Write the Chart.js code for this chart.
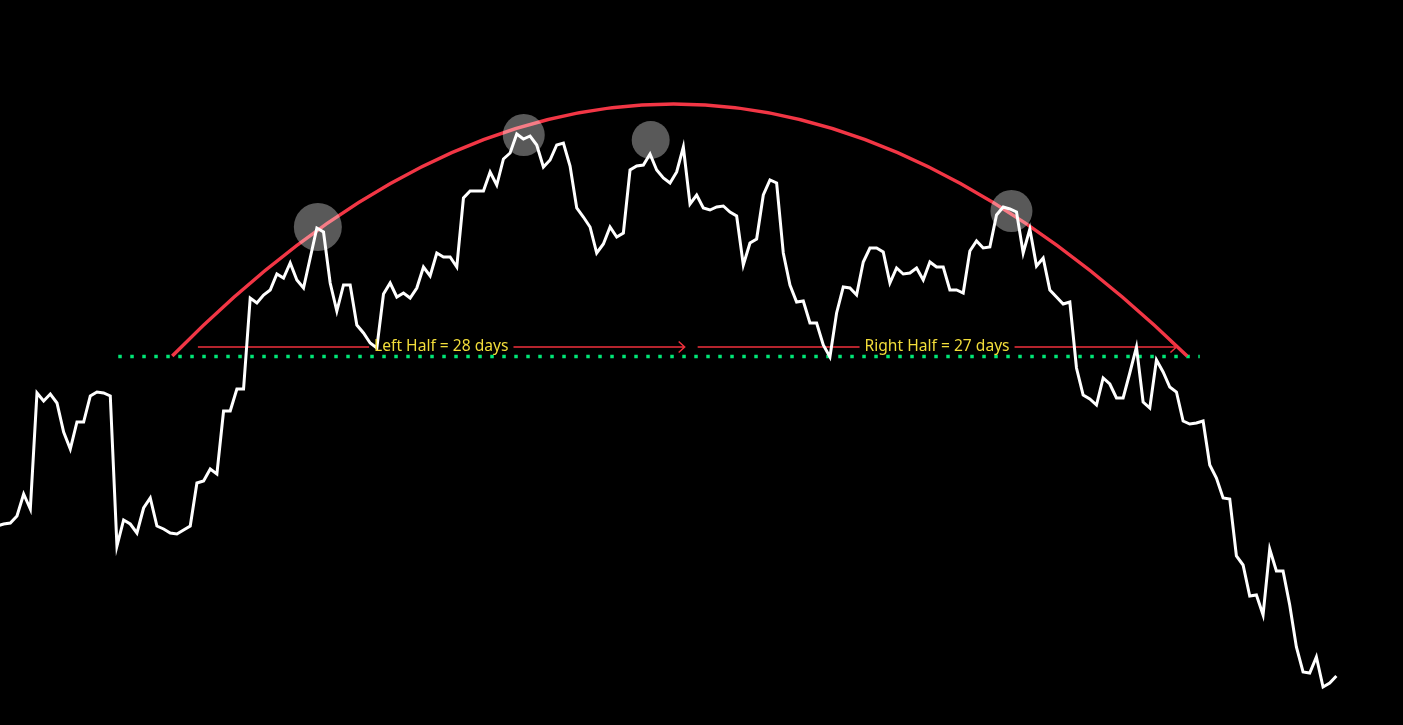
<!DOCTYPE html>
<html>
<head>
<meta charset="utf-8">
<script src="https://cdn.jsdelivr.net/npm/chart.js@4.4.1/dist/chart.umd.min.js"></script>
<style>
  html, body { margin: 0; padding: 0; background: #000; overflow: hidden; }
  #wrap { position: relative; width: 1403px; height: 725px; }
</style>
</head>
<body>
<div id="wrap"><canvas id="c" width="1403" height="725"></canvas></div>
<script>
// ---- data (price in arbitrary units, bar index on x) ----
const firstIndex = -1;
const closes = [
  199, 201, 202, 209, 231, 216, 332, 324, 331, 322,
  293, 276, 303, 303, 329, 333, 332, 329, 179, 205,
  201, 192, 217, 227, 199, 196, 192, 191, 195, 199,
  242, 244, 256, 251, 314, 314, 336, 336, 427, 422,
  430, 435, 451, 447, 462, 445, 437, 467, 497, 493,
  442, 414, 440, 440, 400, 392, 382, 377, 431, 442,
  428, 432, 427, 437, 458, 449, 472, 468, 468, 458,
  527, 534, 534, 534, 553, 540, 566, 572, 591, 586,
  589, 580, 558, 565, 580, 582, 559, 517, 508, 498,
  472, 481, 498, 488, 492, 555, 559, 560, 571, 555,
  547, 542, 553, 578, 521, 530, 517, 515, 518, 519,
  513, 509, 460, 482, 486, 530, 545, 542, 472, 440,
  423, 424, 402, 402, 380, 368, 412, 438, 437, 430,
  463, 477, 477, 473, 442, 457, 451, 452, 457, 445,
  463, 458, 458, 435, 435, 432, 474, 484, 477, 478,
  510, 518, 516, 513, 472, 496, 459, 467, 435, 428,
  421, 423, 357, 330, 326, 320, 347, 341, 327, 327,
  352, 378, 323, 317, 365, 353, 338, 333, 304, 301,
  302, 304, 260, 247, 227, 226, 169, 160, 129, 130,
  110, 176, 154, 154, 120, 78, 53, 52, 68, 38,
  42, 49
];

// neckline (support level)
const necklineLevel = 368.5;
const necklineFrom = 17.2;
const necklineTo = 179.5;

// rounded top arc: start, control, end (bar index, price)
const arcStart = [25.3, 369];
const arcControl = [99.6, 873];
const arcEnd = [177.6, 369];

// touch points of the arc
const touchX = [47.15, 78.05, 97.1, 151.24];
const touchY = [498, 590, 585, 514];

// half-width measurements
const halfLabels = ['Left Half = 28 days', 'Right Half = 27 days'];
const halfFrom = [29.15, 104.15];
const halfTo = [102.2, 176.0];
const halfLevel = 378;

// ---- styles ----
const touchRadius = [24, 21, 19, 21];
const priceColor = '#ffffff';
const arcColor = '#f23645';
const measureColor = '#f0303c';
const neckColor = '#00e676';
const labelColor = '#f2dd3a';
const labelFont = '15.6px "Noto Sans", sans-serif';

const pricePoints = closes.map((v, i) => ({ x: firstIndex + i, y: v }));
const touchPoints = touchX.map((v, i) => ({ x: v, y: touchY[i] }));

const overlay = {
  id: 'overlay',
  beforeDatasetsDraw(chart) {
    const { ctx, scales: { x, y } } = chart;
    ctx.save();
    // neckline dotted
    ctx.strokeStyle = neckColor;
    ctx.lineWidth = 3.5;
    ctx.setLineDash([3.5, 8.5]);
    ctx.beginPath();
    ctx.moveTo(x.getPixelForValue(necklineFrom), y.getPixelForValue(necklineLevel));
    ctx.lineTo(x.getPixelForValue(necklineTo), y.getPixelForValue(necklineLevel));
    ctx.stroke();
    ctx.setLineDash([]);

    // arc
    ctx.strokeStyle = arcColor;
    ctx.lineWidth = 3.5;
    ctx.beginPath();
    ctx.moveTo(x.getPixelForValue(arcStart[0]), y.getPixelForValue(arcStart[1]));
    ctx.quadraticCurveTo(
      x.getPixelForValue(arcControl[0]), y.getPixelForValue(arcControl[1]),
      x.getPixelForValue(arcEnd[0]), y.getPixelForValue(arcEnd[1])
    );
    ctx.stroke();

    // measurement arrows
    ctx.font = labelFont;
    ctx.strokeStyle = measureColor;
    ctx.lineWidth = 1.5;
    const py = y.getPixelForValue(halfLevel);
    halfLabels.forEach((label, k) => {
      const x0 = x.getPixelForValue(halfFrom[k]);
      const x1 = x.getPixelForValue(halfTo[k]);
      const cx = (x0 + x1) / 2;
      const w = ctx.measureText(label).width;
      ctx.beginPath();
      ctx.moveTo(x0, py); ctx.lineTo(cx - w / 2 - 5, py);
      ctx.moveTo(cx + w / 2 + 5, py); ctx.lineTo(x1, py);
      ctx.moveTo(x1 - 6, py - 5.5); ctx.lineTo(x1, py); ctx.lineTo(x1 - 6, py + 5.5);
      ctx.stroke();
    });
    ctx.restore();
  },
  afterDatasetsDraw(chart) {
    const { ctx, scales: { x, y } } = chart;
    ctx.save();
    ctx.font = labelFont;
    ctx.fillStyle = labelColor;
    ctx.textAlign = 'center';
    ctx.textBaseline = 'middle';
    const py = y.getPixelForValue(halfLevel);
    halfLabels.forEach((label, k) => {
      const cx = (x.getPixelForValue(halfFrom[k]) + x.getPixelForValue(halfTo[k])) / 2;
      ctx.fillText(label, cx, py);
    });
    ctx.restore();
  }
};

new Chart(document.getElementById('c'), {
  type: 'line',
  data: {
    datasets: [
      {
        type: 'bubble',
        data: touchPoints,
        backgroundColor: 'rgba(255,255,255,0.35)',
        borderWidth: 0,
        radius: touchRadius,
        hoverRadius: 0
      },
      {
        type: 'line',
        data: pricePoints,
        borderColor: priceColor,
        borderWidth: 3,
        pointRadius: 0,
        tension: 0,
        fill: false,
        borderJoinStyle: 'miter'
      }
    ]
  },
  options: {
    responsive: false,
    animation: false,
    events: [],
    layout: { padding: 0, autoPadding: false },
    plugins: { legend: { display: false }, tooltip: { enabled: false } },
    scales: {
      x: { type: 'linear', display: false, min: -0.55, max: 210.0 },
      y: { type: 'linear', display: false, min: 0, max: 725 }
    }
  },
  plugins: [overlay]
});
</script>
</body>
</html>
